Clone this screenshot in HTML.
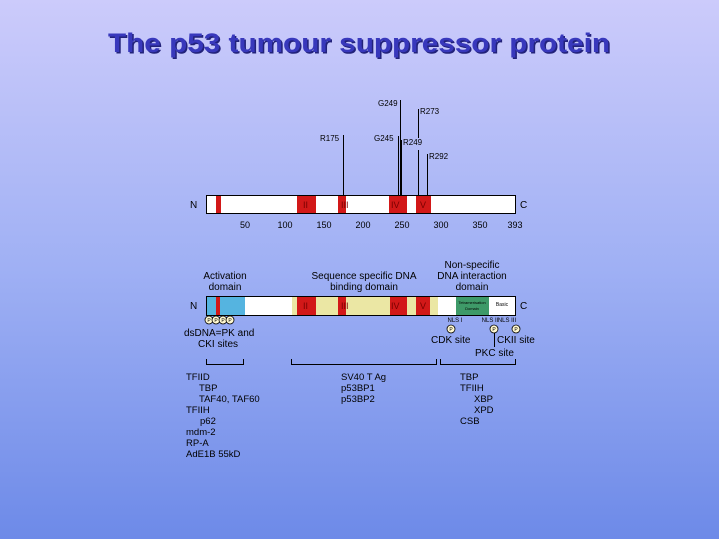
<!DOCTYPE html>
<html><head><meta charset="utf-8"><style>
html,body{margin:0;padding:0;width:719px;height:539px;overflow:hidden}
svg{display:block}
text{font-family:"Liberation Sans",sans-serif;fill:#000}
</style></head><body>
<svg width="719" height="539" viewBox="0 0 719 539" xmlns="http://www.w3.org/2000/svg">
<defs><linearGradient id="bg" x1="0" y1="0" x2="0" y2="1">
<stop offset="0" stop-color="#cccbfb"/><stop offset="0.5" stop-color="#9fb0f4"/><stop offset="1" stop-color="#6d8ae8"/></linearGradient></defs>
<rect width="719" height="539" fill="url(#bg)"/>
<text x="109.5" y="53.5" font-size="27" font-weight="bold" textLength="502" lengthAdjust="spacingAndGlyphs" style="fill:#22227a">The p53 tumour suppressor protein</text>
<text x="108" y="52" font-size="27" font-weight="bold" textLength="502" lengthAdjust="spacingAndGlyphs" style="fill:#3838bc">The p53 tumour suppressor protein</text>

<g stroke="#000" stroke-width="1">
<line x1="343.5" y1="135" x2="343.5" y2="195"/>
<line x1="398.5" y1="136" x2="398.5" y2="195"/>
<line x1="400.5" y1="100" x2="400.5" y2="195"/>
<line x1="401.5" y1="140" x2="401.5" y2="195"/>
<line x1="418.5" y1="109" x2="418.5" y2="138"/>
<line x1="418.5" y1="150" x2="418.5" y2="195"/>
<line x1="427.5" y1="154" x2="427.5" y2="195"/>
</g>
<g font-size="8">
<text x="378" y="106">G249</text>
<text x="420" y="114">R273</text>
<text x="320" y="141">R175</text>
<text x="374" y="141">G245</text>
<text x="403" y="145">R249</text>
<text x="429" y="159">R292</text>
</g>

<rect x="206.5" y="195.5" width="309" height="18" fill="#fff" stroke="#000"/>
<g fill="#d21818">
<rect x="216" y="196" width="5" height="17"/>
<rect x="297" y="196" width="19" height="17"/>
<rect x="338" y="196" width="8" height="17"/>
<rect x="389" y="196" width="18" height="17"/>
<rect x="416" y="196" width="15" height="17"/>
</g>
<g font-size="9">
<text x="303" y="208" style="fill:#700">II</text>
<text x="341" y="208" style="fill:#700">III</text>
<text x="391" y="208" style="fill:#700">IV</text>
<text x="420" y="208" style="fill:#700">V</text>
</g>
<text x="190" y="208" font-size="10">N</text>
<text x="520" y="208" font-size="10">C</text>
<g font-size="9" text-anchor="middle">
<text x="245" y="228">50</text><text x="285" y="228">100</text><text x="324" y="228">150</text>
<text x="363" y="228">200</text><text x="402" y="228">250</text><text x="441" y="228">300</text>
<text x="480" y="228">350</text><text x="515" y="228">393</text>
</g>

<g font-size="10" text-anchor="middle">
<text x="225" y="279">Activation</text><text x="225" y="290">domain</text>
<text x="364" y="279">Sequence specific DNA</text><text x="364" y="290">binding domain</text>
<text x="472" y="268">Non-specific</text><text x="472" y="279">DNA interaction</text><text x="472" y="290">domain</text>
</g>

<rect x="206.5" y="296.5" width="309" height="19" fill="#fff" stroke="#000"/>
<rect x="207" y="297" width="38" height="18" fill="#55b4e0"/>
<rect x="216" y="297" width="4" height="18" fill="#d21818"/>
<rect x="292" y="297" width="146" height="18" fill="#ebe7a4"/>
<g fill="#d21818">
<rect x="297" y="297" width="19" height="18"/>
<rect x="338" y="297" width="8" height="18"/>
<rect x="390" y="297" width="17" height="18"/>
<rect x="416" y="297" width="14" height="18"/>
</g>
<rect x="456" y="297" width="33" height="18" fill="#3e9a68"/>
<g font-size="9">
<text x="303" y="309" style="fill:#700">II</text>
<text x="341" y="309" style="fill:#700">III</text>
<text x="391" y="309" style="fill:#700">IV</text>
<text x="420" y="309" style="fill:#700">V</text>
</g>
<text x="472" y="304" font-size="4" text-anchor="middle">Tetramerisation</text>
<text x="472" y="310" font-size="4" text-anchor="middle">Domain</text>
<text x="502" y="306" font-size="5" text-anchor="middle">Basic</text>
<text x="190" y="309" font-size="10">N</text>
<text x="520" y="309" font-size="10">C</text>
<g font-size="6" text-anchor="middle">
<text x="455" y="322">NLS I</text><text x="490" y="322">NLS II</text><text x="507" y="322">NLS III</text>
</g>

<g fill="#fff8d0" stroke="#000" stroke-width="0.8">
<circle cx="209" cy="320" r="4"/><circle cx="216" cy="320" r="4"/><circle cx="223" cy="320" r="4"/><circle cx="230" cy="320" r="4"/>
<circle cx="451" cy="329" r="4"/><circle cx="494" cy="329" r="4"/><circle cx="516" cy="329" r="4"/>
</g>
<g font-size="5" text-anchor="middle">
<text x="209" y="322">P</text><text x="216" y="322">P</text><text x="223" y="322">P</text><text x="230" y="322">P</text>
<text x="451" y="331">P</text><text x="494" y="331">P</text><text x="516" y="331">P</text>
</g>
<line x1="494.5" y1="333" x2="494.5" y2="347" stroke="#000"/>
<g font-size="10">
<text x="184" y="336">dsDNA=PK and</text>
<text x="198" y="347">CKI sites</text>
<text x="431" y="343">CDK site</text>
<text x="497" y="343">CKII site</text>
<text x="475" y="356">PKC site</text>
</g>

<g stroke="#000" fill="none">
<path d="M206.5 359v5.5h37v-5.5"/>
<path d="M291.5 359v5.5h145v-5.5"/>
<path d="M440.5 359v5.5h75v-5.5"/>
</g>
<g font-size="9.5">
<text x="186" y="380">TFIID</text>
<text x="199" y="391">TBP</text>
<text x="199" y="402">TAF40, TAF60</text>
<text x="186" y="413">TFIIH</text>
<text x="200" y="424">p62</text>
<text x="186" y="435">mdm-2</text>
<text x="186" y="446">RP-A</text>
<text x="186" y="457">AdE1B 55kD</text>
<text x="341" y="380">SV40 T Ag</text>
<text x="341" y="391">p53BP1</text>
<text x="341" y="402">p53BP2</text>
<text x="460" y="380">TBP</text>
<text x="460" y="391">TFIIH</text>
<text x="474" y="402">XBP</text>
<text x="474" y="413">XPD</text>
<text x="460" y="424">CSB</text>
</g>
</svg>
</body></html>
